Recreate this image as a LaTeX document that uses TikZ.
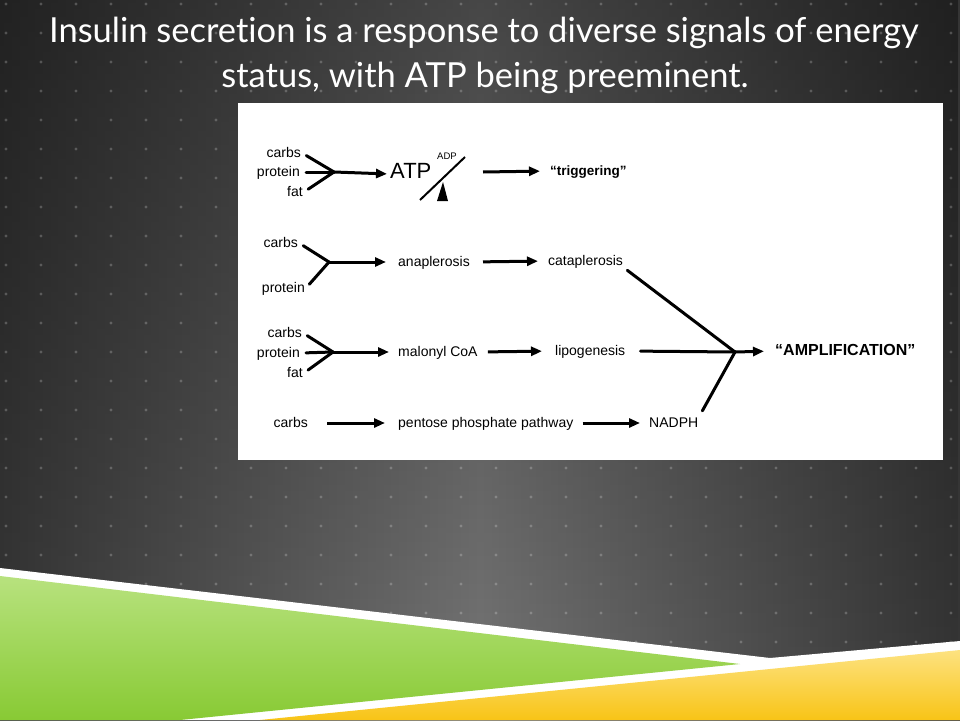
\documentclass[tikz,border=0pt]{standalone}
\usepackage{fontspec}
\setmainfont{Liberation Sans}
\newfontfamily\titlefont[Ligatures={NoCommon,NoDiscretionary,NoContextual}]{Lato}
\usetikzlibrary{arrows.meta,positioning,fadings}
\definecolor{slideDark}{RGB}{56,56,56}
\definecolor{slideMid}{RGB}{118,118,118}
\definecolor{leafGreen}{RGB}{136,202,52}
\definecolor{paleGreen}{RGB}{204,236,158}
\definecolor{sunYellow}{RGB}{248,196,22}
\definecolor{paleYellow}{RGB}{253,226,128}

\begin{document}
\begin{tikzpicture}[x=1pt, y=-1pt,
        term/.style={inner sep=1pt, text height=1.9ex, text depth=.25ex, font=\fontsize{14}{14}\selectfont},
        outcome/.style={inner sep=1pt, text height=1.9ex, text depth=.25ex, font=\bfseries},
        heading/.style={anchor=base, text=white, font=\titlefont\fontsize{34.5}{34.5}\selectfont},
        feed/.style={line width=3pt, line cap=round},
        flow/.style={line width=3pt, -{Triangle[length=11pt,width=9pt]}},
        lever/.style={line width=2pt},
    ]
        \useasboundingbox (0,0) rectangle (960,720);

        % Slide background
        \shade[left color=slideDark, right color=slideDark!95!black, middle color=slideMid] (0,0) rectangle (960,720);
        \fill[black, opacity=.4, path fading=south] (0,0) rectangle (960,720);
        \foreach \i in {0,...,27} {
            \foreach \j in {0,...,24} {
                \fill[white, opacity=.22] (6+35*\i, 4+29*\j) circle (1.7);
            }
        }

        % Title
        \node[heading] (titleA) at (484,42) {Insulin secretion is a response to diverse signals of energy};
        \node[heading] (titleB) at (485,87) {status, with ATP being preeminent.};

        % Figure panel
        \fill[white] (238,103) rectangle (943,460);

        % Row 1: ATP / triggering
        \node[term, anchor=east] (carbsA) at (302,153) {carbs};
        \node[term, anchor=east] (protA) at (301,172) {protein};
        \node[term, anchor=east] (fatA) at (304,192) {fat};
        \coordinate (joinA) at (334,172);
        \node[term, anchor=west, font=\fontsize{22}{22}\selectfont] (atp) at (389,174) {ATP};
        \coordinate (leverLo) at (420,200);
        \coordinate (leverHi) at (465,157);
        \draw[lever] (leverLo) -- (leverHi);
        \node[inner sep=0pt, font=\fontsize{9.5}{9.5}\selectfont] (adp) at (447,156) {ADP};
        \fill (437,201) -- (448,201) -- (443,182) -- cycle;
        \coordinate (trigStart) at (483,172);
        \node[outcome, anchor=west, font=\fontsize{13.5}{13.5}\selectfont\bfseries] (trig) at (549,171) {“triggering”};

        % Row 2: anaplerosis
        \node[term, anchor=east] (carbsB) at (299,243) {carbs};
        \node[term, anchor=east] (protB) at (306,288) {protein};
        \coordinate (joinB) at (329,262);
        \node[term, anchor=west] (ana) at (397,262) {anaplerosis};
        \node[term, anchor=west] (cata) at (547,261) {cataplerosis};

        % Row 3: malonyl CoA
        \node[term, anchor=east] (carbsC) at (303,333) {carbs};
        \node[term, anchor=east] (protC) at (301,353) {protein};
        \node[term, anchor=east] (fatC) at (304,373) {fat};
        \coordinate (joinC) at (333,352);
        \node[term, anchor=west] (malonyl) at (397,352) {malonyl CoA};
        \node[term, anchor=west] (lipo) at (554,351) {lipogenesis};

        % Row 4: pentose phosphate
        \node[term, anchor=east] (carbsD) at (309,423) {carbs};
        \node[term, anchor=west] (pentose) at (397,423) {pentose phosphate pathway};
        \node[term, anchor=west] (nadph) at (648,423) {NADPH};

        % Amplification
        \coordinate (joinAmp) at (735,352);
        \node[outcome, anchor=west, font=\fontsize{16}{16}\selectfont\bfseries] (amp) at (774,351) {“AMPLIFICATION”};

        % Inputs into the junctions
        \foreach \src/\dst in {carbsA/joinA, protA/joinA, fatA/joinA, carbsB/joinB, protB/joinB, carbsC/joinC, protC/joinC, fatC/joinC} {
            \draw[feed, shorten <=5pt] (\src.east) -- (\dst);
        }
        \draw[feed, shorten <=4pt] (cata.south east) -- (joinAmp);
        \draw[feed, shorten <=14pt] (lipo.east) -- (joinAmp);
        \draw[feed, shorten <=6pt] (nadph.north east) -- (joinAmp);

        % Arrows
        \draw[flow, shorten >=2pt] (joinA) -- (atp.west);
        \draw[flow, shorten >=9pt] (trigStart) -- (trig.west);
        \draw[flow, shorten >=11pt] (joinB) -- (ana.west);
        \draw[flow, shorten <=12pt, shorten >=9pt] (ana.east) -- (cata.west);
        \draw[flow, shorten >=8pt] (joinC) -- (malonyl.west);
        \draw[flow, shorten <=9pt, shorten >=12pt] (malonyl.east) -- (lipo.west);
        \draw[flow, shorten <=18pt, shorten >=12pt] (carbsD.east) -- (pentose.west);
        \draw[flow, shorten <=8pt, shorten >=8pt] (pentose.east) -- (nadph.west);
        \draw[flow, shorten >=10pt] (joinAmp) -- (amp.west);

        % Bottom bands
        \fill[white] (0,568) -- (770,658) -- (960,641) -- (960,720) -- (0,720) -- cycle;
        \shade[top color=paleGreen!70!leafGreen, middle color=paleGreen, bottom color=leafGreen] (0,576) -- (740,664) -- (180,720) -- (0,720) -- cycle;
        \shade[top color=paleYellow, middle color=sunYellow!85!paleYellow, bottom color=sunYellow] (260,720) -- (960,650) -- (960,720) -- cycle;
    \end{tikzpicture}
\end{document}
